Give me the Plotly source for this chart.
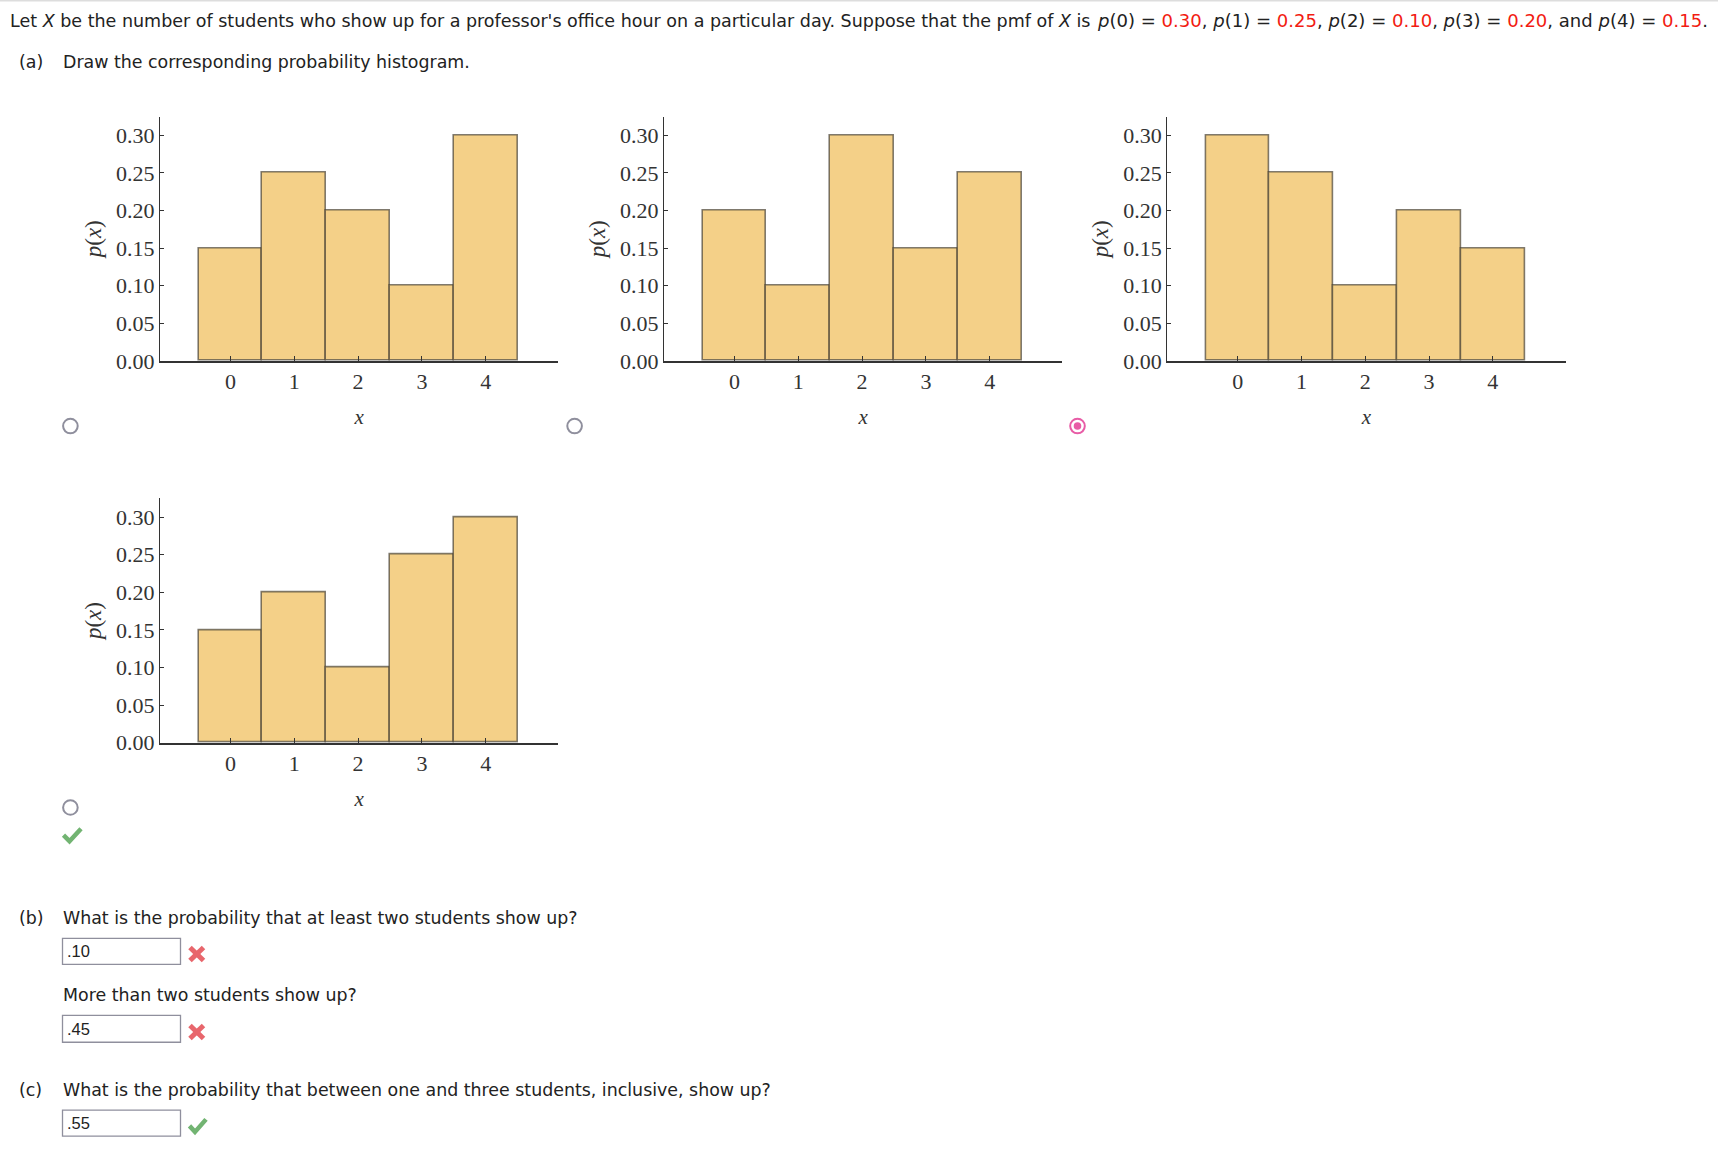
import plotly.graph_objects as go

W = 1718
H = 1152
Y_FIT = 1.0104  # page came out slightly short compared to the reference

# the four answer choices
x_vals = [0, 1, 2, 3, 4]
choice_a = [0.15, 0.25, 0.20, 0.10, 0.30]
choice_b = [0.20, 0.10, 0.30, 0.15, 0.25]
choice_c = [0.30, 0.25, 0.10, 0.20, 0.15]
choice_d = [0.15, 0.20, 0.10, 0.25, 0.30]
y_ticks = [0.00, 0.05, 0.10, 0.15, 0.20, 0.25, 0.30]
y_labels = ["0.00", "0.05", "0.10", "0.15", "0.20", "0.25", "0.30"]

answers = [".10", ".45", ".55"]

RED = "#f21c12"
TEXT = "#222222"
SERIF = "Liberation Serif"
SANS = "DejaVu Sans"
AXIS_TEXT = "#333333"


def px(x):
    return x / W


def py(y):
    return 1 - y * Y_FIT / H


fig = go.Figure()

# left edge of the y axis and bottom of the plot, in page pixels
panels = [
    (choice_a, 160, 361.3),
    (choice_b, 664, 361.3),
    (choice_c, 1167.2, 361.3),
    (choice_d, 160, 743.5),
]

for i, (vals, left, bottom) in enumerate(panels):
    n = "" if i == 0 else str(i + 1)
    fig.add_trace(go.Bar(
        x=x_vals, y=vals, width=1, xaxis="x" + n, yaxis="y" + n,
        marker=dict(color="#f4d088", line=dict(color="rgba(60,56,46,0.65)", width=1.6)),
        showlegend=False,
    ))
    fig.update_layout({
        "xaxis" + n: dict(
            domain=[px(left), px(left + 398.4)], range=[-1.105, 5.14], anchor="y" + n,
            tickvals=x_vals, ticks="inside", ticklen=5, tickcolor="#333333", tickwidth=1,
            showline=True, linecolor="#333333", linewidth=2, showgrid=False, zeroline=False,
            ticklabelstandoff=0, tickfont=dict(family=SERIF, size=22, color=AXIS_TEXT),
            title=dict(text="<i>x</i>", standoff=16, font=dict(family=SERIF, size=21, color=AXIS_TEXT)),
        ),
        "yaxis" + n: dict(
            domain=[py(bottom), py(bottom - 244.6)], range=[0, 0.325], anchor="x" + n,
            tickvals=y_ticks, ticktext=y_labels, ticks="inside", ticklen=4, tickcolor="#333333", tickwidth=1,
            showline=True, linecolor="#333333", linewidth=1, showgrid=False, zeroline=False,
            tickfont=dict(family=SERIF, size=22, color=AXIS_TEXT),
            title=dict(text="<i>p</i>(<i>x</i>)", standoff=8, font=dict(family=SERIF, size=23, color=AXIS_TEXT)),
        ),
    })


# page text
def add_text(x, y, s, size=17.4, family=SANS, color=TEXT):
    fig.add_annotation(
        x=px(x), y=py(y), xref="paper", yref="paper", text=s, showarrow=False,
        xanchor="left", yanchor="middle", align="left",
        font=dict(family=family, size=size, color=color),
    )


def red(s):
    return '<span style="color:%s">%s</span>' % (RED, s)


line1a = ("Let <i>X</i> be the number of students who show up for a professor's office hour on a particular day. "
          "Suppose that the pmf of <i>X</i> is")
line1b = ("<i>p</i>(0) = " + red("0.30") + ", <i>p</i>(1) = " + red("0.25") + ", <i>p</i>(2) = " + red("0.10") +
          ", <i>p</i>(3) = " + red("0.20") + ", and <i>p</i>(4) = " + red("0.15") + ".")
add_text(8, 21, line1a, size=17.5)
add_text(1095, 21, line1b, size=18.05)
add_text(17, 62, "(a)")
add_text(60.5, 62, "Draw the corresponding probability histogram.")
add_text(17, 919, "(b)")
add_text(60.5, 919, "What is the probability that at least two students show up?")
add_text(60.5, 996, "More than two students show up?")
add_text(17, 1091, "(c)")
add_text(60.5, 1091, "What is the probability that between one and three students, inclusive, show up?")

shapes = [dict(type="line", xref="paper", yref="paper", x0=0, x1=1, y0=py(0.5), y1=py(0.5),
               line=dict(color="#dddddd", width=2))]


def circle(cx, cy, r, line_color, fill="rgba(0,0,0,0)", width=2):
    shapes.append(dict(type="circle", xref="paper", yref="paper",
                       x0=px(cx - r), x1=px(cx + r), y0=py(cy + r), y1=py(cy - r),
                       line=dict(color=line_color, width=width), fillcolor=fill))


def polyline(points, color, width):
    d = "M " + " L ".join("%.5f %.5f" % (px(a), py(b)) for a, b in points)
    shapes.append(dict(type="path", xref="paper", yref="paper", path=d,
                       line=dict(color=color, width=width)))


# radio buttons
for cx, cy in [(70.4, 426.5), (574.6, 426.5), (1077.5, 426.5), (70.4, 808.3)]:
    if cx == 1077.5:
        circle(cx, cy, 7.3, "#e85ca6")
        circle(cx, cy, 3.8, "#e85ca6", fill="#e85ca6", width=0)
    else:
        circle(cx, cy, 7.3, "#8f8f9d")

# answer boxes
for y0, y1, s in [(939.3, 965.3, answers[0]), (1016.3, 1043.3, answers[1]), (1111.3, 1137.3, answers[2])]:
    shapes.append(dict(type="rect", xref="paper", yref="paper",
                       x0=px(62.5), x1=px(180.5), y0=py(y1), y1=py(y0),
                       line=dict(color="#8f8f9d", width=1.3)))
    add_text(65, (y0 + y1) / 2, s, size=16.5, family="Liberation Sans")

# right / wrong marks
polyline([(63.5, 836), (69.5, 842), (81, 829.5)], "#72b472", 4.5)
polyline([(189.5, 1127), (195, 1133), (206, 1120.5)], "#72b472", 4.5)
for cy in [955, 1033]:
    polyline([(190, cy - 6.5), (203.5, cy + 6.5)], "#e8666c", 5)
    polyline([(190, cy + 6.5), (203.5, cy - 6.5)], "#e8666c", 5)

fig.update_layout(
    width=W, height=H, margin=dict(l=0, r=0, t=0, b=0),
    paper_bgcolor="white", plot_bgcolor="white", bargap=0,
    shapes=shapes,
)

fig.write_html("out.html", config=dict(displayModeBar=False),
               post_script="document.body.style.margin='0';document.documentElement.style.overflow='hidden';")
